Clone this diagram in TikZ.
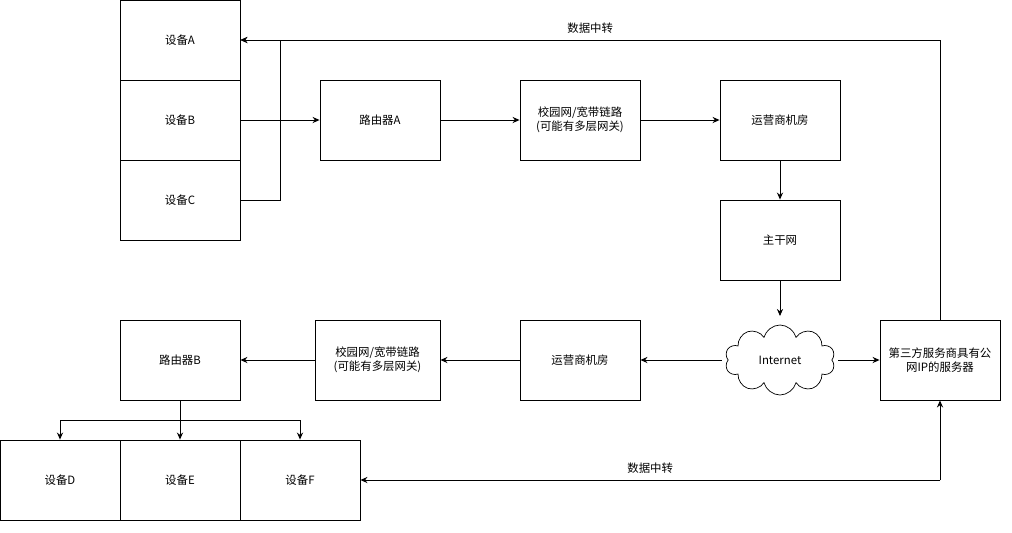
\documentclass[tikz,border=0pt]{standalone}
\usepackage{fontspec}
\setmainfont{Noto Sans CJK SC}
\usetikzlibrary{shapes.symbols,arrows.meta}
\begin{document}
\begin{tikzpicture}[x=0.02cm,y=-0.02cm,
  box/.style={draw,line width=0.5pt,minimum width=2.4cm,minimum height=1.6cm,align=center,inner sep=0pt,font=\fontsize{6.5}{8}\selectfont},
  ar/.style={-{Stealth[length=4pt,width=3.5pt]},line width=0.5pt},
  ln/.style={line width=0.5pt},
  lab/.style={font=\fontsize{6.5}{8}\selectfont}]
\useasboundingbox (0,0) rectangle (1012,532);
\node[box] (A) at (180,40) {设备A};
\node[box] (B) at (180,120) {设备B};
\node[box] (C) at (180,200) {设备C};
\node[box] (RA) at (380,120) {路由器A};
\node[box] (XA) at (580,120) {校园网/宽带链路\\(可能有多层网关)};
\node[box] (YA) at (780,120) {运营商机房};
\node[box] (G) at (780,240) {主干网};
\node[cloud,draw,cloud puffs=10,aspect=1.6,minimum width=2.2cm,minimum height=1.4cm,inner sep=0pt,font=\fontsize{6.5}{8}\selectfont] (I) at (780,360) {Internet};
\node[box] (T) at (940,360) {第三方服务商具有公\\网IP的服务器};
\node[box] (YB) at (580,360) {运营商机房};
\node[box,minimum width=2.5cm] (XB) at (377.5,360) {校园网/宽带链路\\(可能有多层网关)};
\node[box] (RB) at (180,360) {路由器B};
\node[box] (D) at (60,480) {设备D};
\node[box] (E) at (180,480) {设备E};
\node[box] (F) at (300,480) {设备F};
\coordinate (j1) at (280,40);
\coordinate (j2) at (280,200);
\coordinate (j3) at (280,120);
\draw[ln] (C.east) -- (j2) -- (j1);
\draw[ar] (B.east) -- (RA.west);
\draw[ar] (T.north) |- (A.east) node[pos=0.75,above,lab] {数据中转};
\draw[ar] (A.east -| j1) -- (A.east);
\draw[ar] (RA) -- (XA);
\draw[ar] (XA) -- (YA);
\draw[ar] (YA) -- (G);
\draw[ar] (G.south) -- (780,316);
\draw[ar] (722,360) -- (YB.east);
\draw[ar] (838,360) -- (T.west);
\draw[ar] (YB) -- (XB);
\draw[ar] (XB) -- (RB);
\coordinate (h) at (180,420);
\draw[ln] (RB.south) -- (h);
\draw[ln] (60,420) -- (300,420);
\draw[ar] (60,420) -- (D.north);
\draw[ar] (h) -- (E.north);
\draw[ar] (300,420) -- (F.north);
\draw[ar] (940,480) -- (T.south);
\draw[ar] (940,480) -- (F.east) node[pos=0.5,above,lab] {数据中转};
\end{tikzpicture}
\end{document}
